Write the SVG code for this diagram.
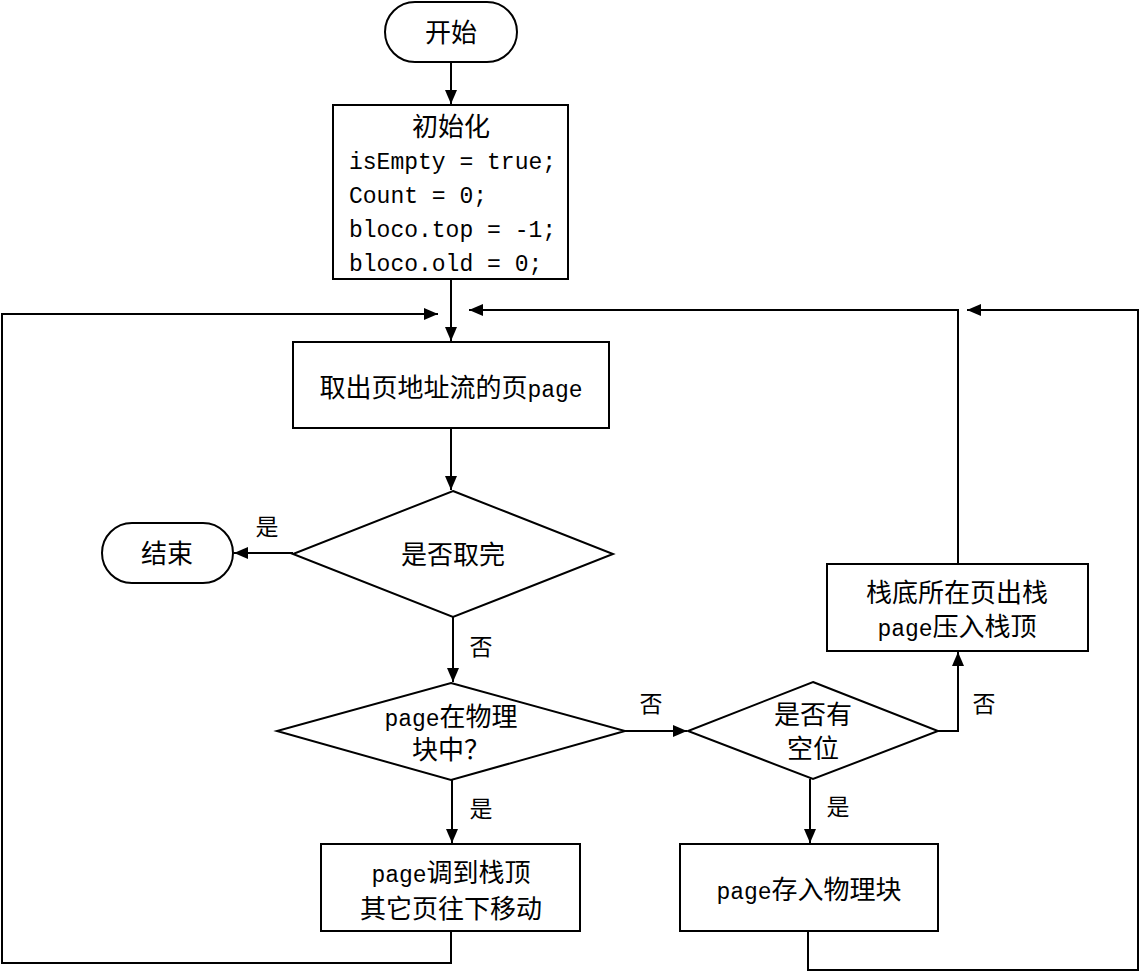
<svg xmlns="http://www.w3.org/2000/svg" width="1140" height="973" viewBox="0 0 1140 973">
<style>
.shape{fill:#fff;stroke:#000;stroke-width:2}
.conn{fill:none;stroke:#000;stroke-width:2}
text{font-family:"Noto Sans CJK SC","Noto Sans CJK JP",sans-serif;font-size:26px;fill:#000}
.c{text-anchor:middle}
.m{font-family:"Liberation Mono","DejaVu Sans Mono",monospace;font-size:23px}
.lbl{font-size:23px}
</style>
<defs>
<marker id="ah" markerWidth="14" markerHeight="12" refX="14" refY="6" orient="auto" markerUnits="userSpaceOnUse">
<path d="M0,0 L14,6 L0,12 z" fill="#000"/>
</marker>
</defs>
<g id="connectors">
<path class="conn" d="M451,62 V104" marker-end="url(#ah)"/>
<path class="conn" d="M451,279 V341" marker-end="url(#ah)"/>
<path class="conn" d="M451,428 V490" marker-end="url(#ah)"/>
<path class="conn" d="M293,553 H234" marker-end="url(#ah)"/>
<path class="conn" d="M453,617 V682" marker-end="url(#ah)"/>
<path class="conn" d="M625,731 H687" marker-end="url(#ah)"/>
<path class="conn" d="M938,731 H958 V652" marker-end="url(#ah)"/>
<path class="conn" d="M810,779 V843" marker-end="url(#ah)"/>
<path class="conn" d="M452,780 V843" marker-end="url(#ah)"/>
<path class="conn" d="M451,931 V963 H2 V314 H438" marker-end="url(#ah)"/>
<path class="conn" d="M958,564 V310 H469" marker-end="url(#ah)"/>
<path class="conn" d="M808,931 V970 H1138 V310 H967" marker-end="url(#ah)"/>
<text class="lbl" x="267" y="535" text-anchor="middle">是</text>
<text class="lbl" x="481" y="655" text-anchor="middle">否</text>
<text class="lbl" x="651" y="712" text-anchor="middle">否</text>
<text class="lbl" x="984" y="712" text-anchor="middle">否</text>
<text class="lbl" x="481" y="817" text-anchor="middle">是</text>
<text class="lbl" x="838" y="815" text-anchor="middle">是</text>
</g>
<g id="start">
<rect class="shape" x="385" y="2" width="132" height="60" rx="30" ry="30"/>
<text class="c" x="451" y="42">开始</text>
</g>
<g id="init">
<rect class="shape" x="333" y="105" width="235" height="174"/>
<text class="c" x="451" y="136">初始化</text>
<text class="m" x="349" y="169">isEmpty = true;</text>
<text class="m" x="349" y="203">Count = 0;</text>
<text class="m" x="349" y="237">bloco.top = -1;</text>
<text class="m" x="349" y="271">bloco.old = 0;</text>
</g>
<g id="take">
<rect class="shape" x="293" y="342" width="316" height="86"/>
<text class="c" x="451" y="397">取出页地址流的页<tspan class="m">page</tspan></text>
</g>
<g id="done">
<polygon class="shape" points="453,491 613,554 453,617 293,554"/>
<text class="c" x="453" y="564">是否取完</text>
</g>
<g id="end">
<rect class="shape" x="102" y="523" width="131" height="60" rx="30" ry="30"/>
<text class="c" x="167" y="563">结束</text>
</g>
<g id="inblock">
<polygon class="shape" points="451,683 625,731 451,780 277,731"/>
<text class="c" x="451" y="726"><tspan class="m">page</tspan>在物理<tspan x="451" dy="33">块中？</tspan></text>
</g>
<g id="hasfree">
<polygon class="shape" points="813,682 938,731 813,779 688,731"/>
<text class="c" x="813" y="724">是否有<tspan x="813" dy="34">空位</tspan></text>
</g>
<g id="evict">
<rect class="shape" x="827" y="564" width="261" height="87"/>
<text class="c" x="957" y="602">栈底所在页出栈<tspan x="957" dy="34"><tspan class="m">page</tspan>压入栈顶</tspan></text>
</g>
<g id="store">
<rect class="shape" x="680" y="844" width="258" height="87"/>
<text class="c" x="809" y="899"><tspan class="m">page</tspan>存入物理块</text>
</g>
<g id="movetop">
<rect class="shape" x="321" y="844" width="259" height="87"/>
<text class="c" x="451" y="882"><tspan class="m">page</tspan>调到栈顶<tspan x="451" dy="36">其它页往下移动</tspan></text>
</g>
</svg>
